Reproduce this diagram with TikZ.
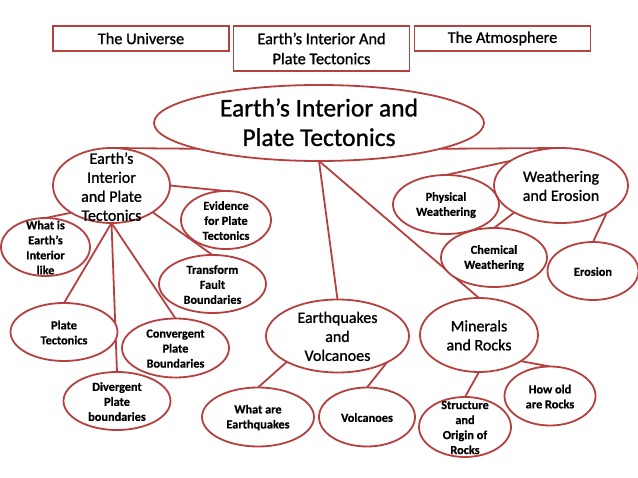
\documentclass[tikz,border=0pt]{standalone}
\usepackage{fontspec}
\setmainfont[BoldFeatures={RawFeature={embolden=0.5}}]{Carlito}
\newfontfamily\semifont[RawFeature={embolden=1.0}]{Carlito}
\usetikzlibrary{shapes.geometric}
\pgfdeclarelayer{edges}
\pgfsetlayers{edges,main}
\definecolor{linered}{HTML}{B5403F}
\tikzset{
 x=1pt,y=-1pt,
 oval/.style={ellipse,draw=linered,line width=1.8pt,fill=white,inner sep=0pt,outer sep=0pt},
 ovaltext/.style={inner sep=0pt,align=center,yshift=-0.6pt,font=\fontsize{12.3}{15}\selectfont\bfseries},
 big/.style={font=\fontsize{16}{19}\selectfont\semifont,yshift=0.2pt},
 huge/.style={font=\fontsize{25.5}{29.5}\selectfont\semifont,yshift=1.3pt},
 topbox/.style={draw=linered,line width=1.6pt,fill=white,minimum width=176pt,inner sep=0pt,outer sep=0pt,align=center,font=\fontsize{16.3}{20}\selectfont\semifont},
 link/.style={draw=linered,line width=1.8pt},
}
\newcommand{\ovalnode}[7][]{\node[oval,minimum width=#5*2pt,minimum height=#6*2pt,label={[ovaltext,#1]center:{#7}}] (#2) at (#3,#4) {};}
\begin{document}
\begin{tikzpicture}
\useasboundingbox (0,0) rectangle (638,478);
\node[topbox,minimum height=25pt] (univ) at (141,38.5) {The Universe};
\node[topbox,minimum height=45pt] (inter) at (321.5,48.5) {Earth’s Interior And\\Plate Tectonics};
\node[topbox,minimum height=25pt] (atm) at (502.5,38.5) {The Atmosphere};
\ovalnode[huge]{main}{319}{123}{165}{38}{Earth’s Interior and\\Plate Tectonics}
\ovalnode{what}{45.5}{247}{44.5}{29}{What is\\Earth’s\\Interior\\like}
\ovalnode[big,yshift=-0.8pt]{eip}{111.5}{185.5}{58.5}{37.5}{Earth’s\\Interior\\and Plate\\Tectonics}
\ovalnode{evid}{226}{220}{45}{29}{Evidence\\for Plate\\Tectonics}
\ovalnode{trans}{212.5}{284}{53.5}{29}{Transform\\Fault\\Boundaries}
\ovalnode{plate}{64}{332}{53.5}{29}{Plate\\Tectonics}
\ovalnode{conv}{175.5}{348}{53.5}{29.5}{Convergent\\Plate\\Boundaries}
\ovalnode{div}{117}{401}{53.5}{29}{Divergent\\Plate\\boundaries}
\ovalnode{wae}{258}{417}{56}{29.5}{What are\\Earthquakes}
\ovalnode{volc}{367}{417}{48}{29.5}{Volcanoes}
\ovalnode[big]{quake}{337.5}{336}{71.5}{36.5}{Earthquakes\\and\\Volcanoes}
\ovalnode[big]{miner}{479}{335}{59}{37}{Minerals\\and Rocks}
\ovalnode{struct}{465}{427}{46}{30}{Structure\\and\\Origin of\\Rocks}
\ovalnode{old}{550}{396}{45.5}{29.5}{How old\\are Rocks}
\ovalnode[big]{weath}{561}{185.5}{67}{37.5}{Weathering\\and Erosion}
\ovalnode{chem}{494}{257.5}{53}{29.5}{Chemical\\Weathering}
\node[oval,fill=none,minimum width=106pt,minimum height=59pt,label={[ovaltext]center:{Physical\\Weathering}}] (phys) at (446,204.5) {};
\ovalnode{eros}{593}{271}{45.5}{29}{Erosion}
\begin{pgfonlayer}{edges}
\path[link] (main.192) -- (eip.north);
\path[link] (main.348) -- (weath.north);
\path[link] (main.south) -- (quake.north);
\path[link] (main.south) -- (miner.north);
\path[link] (eip.214) -- (what.north);
\path[link] (eip.south) -- (plate.north);
\path[link] (eip.south) -- (div.north);
\path[link] (eip.south) -- (conv.north);
\path[link] (eip.east) -- (evid.north);
\path[link] (eip.327) -- (trans.north);
\path[link] (weath.154) -- (phys.north);
\path[link] (weath.210) -- (chem.north);
\path[link] (weath.329) -- (eros.north);
\path[link] (miner.south) -- (struct.north);
\path[link] (miner.328) -- (old.north);
\path[link] (quake.207) -- (wae.north);
\path[link] (quake.332) -- (volc.north);
\end{pgfonlayer}
\end{tikzpicture}
\end{document}
